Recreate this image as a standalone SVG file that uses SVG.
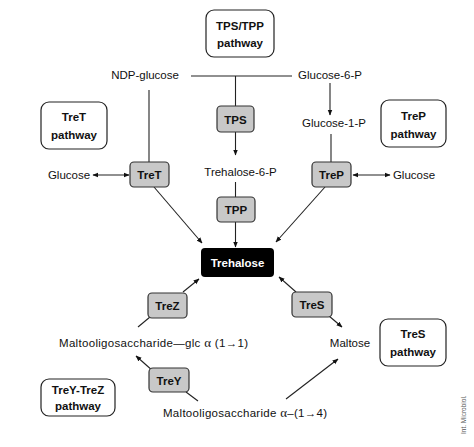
<svg xmlns="http://www.w3.org/2000/svg" width="474" height="447" viewBox="0 0 474 447">
<style>
text{font-family:"Liberation Sans",Arial,sans-serif;font-size:11.5px;fill:#111;}
.b{font-weight:bold;text-anchor:middle;}
.m{text-anchor:middle;}
.enz{fill:#c8c8c8;stroke:#333;stroke-width:1.2;}
.pw{fill:#fff;stroke:#222;stroke-width:1.2;}
.ln{stroke:#222;stroke-width:1.1;fill:none;}
.gr{font-family:"Liberation Serif","Times New Roman",serif;font-size:13px;}
</style>
<defs>
<marker id="ah" viewBox="0 0 10 10" refX="9" refY="5" markerWidth="6" markerHeight="6" orient="auto-start-reverse" markerUnits="userSpaceOnUse">
<path d="M0,1 L10,5 L0,9 z" fill="#111"/>
</marker>
</defs>
<rect width="474" height="447" fill="#fff"/>
<g id="connectors">
<path class="ln" d="M191,76 H292"/>
<path class="ln" d="M235.5,76 V106"/>
<path class="ln" d="M235.5,132 V155" marker-end="url(#ah)"/>
<path class="ln" d="M235.5,182 V197"/>
<path class="ln" d="M235.5,222 V247" marker-end="url(#ah)"/>
<path class="ln" d="M149,90 V162"/>
<path class="ln" d="M93,175 H129" marker-start="url(#ah)" marker-end="url(#ah)"/>
<path class="ln" d="M330,83 V115" marker-end="url(#ah)"/>
<path class="ln" d="M331,134 V162"/>
<path class="ln" d="M353,175 H390" marker-start="url(#ah)" marker-end="url(#ah)"/>
<path class="ln" d="M154,187 L202,243" marker-end="url(#ah)"/>
<path class="ln" d="M325,187 L276,242" marker-end="url(#ah)"/>
<path class="ln" d="M183,292 L199,279" marker-end="url(#ah)"/>
<path class="ln" d="M150,317 L138,327"/>
<path class="ln" d="M153,371 L136,356" marker-end="url(#ah)"/>
<path class="ln" d="M186,392 L198,401"/>
<path class="ln" d="M296,292 L279,277" marker-end="url(#ah)"/>
<path class="ln" d="M329,316 L342,327" marker-end="url(#ah)"/>
<path class="ln" d="M286,399 L338,359" marker-end="url(#ah)"/>
</g>
<g id="tps_tpp_pathway"><rect class="pw" x="206" y="10" width="68" height="47" rx="8"/><text class="b" x="240" y="30">TPS/TPP</text><text class="b" x="240" y="47">pathway</text></g>
<g id="ndp_glucose"><text class="m" x="145" y="79">NDP-glucose</text></g>
<g id="glucose6p"><text class="m" x="330" y="79">Glucose-6-P</text></g>
<g id="tps"><rect class="enz" x="217" y="106" width="37" height="26" rx="4"/><text class="b" x="235.5" y="123.5">TPS</text></g>
<g id="glucose1p"><text class="m" x="334" y="127">Glucose-1-P</text></g>
<g id="tret_pathway"><rect class="pw" x="41" y="102" width="66" height="47" rx="8"/><text class="b" x="74" y="121">TreT</text><text class="b" x="74" y="139">pathway</text></g>
<g id="trep_pathway"><rect class="pw" x="381" y="100" width="65" height="47" rx="8"/><text class="b" x="413.5" y="120">TreP</text><text class="b" x="413.5" y="138">pathway</text></g>
<g id="glucose_left"><text class="m" x="69" y="179">Glucose</text></g>
<g id="tret"><rect class="enz" x="130" y="162" width="39" height="25" rx="4"/><text class="b" x="149.5" y="179">TreT</text></g>
<g id="trehalose6p"><text class="m" x="240.5" y="176">Trehalose-6-P</text></g>
<g id="trep"><rect class="enz" x="312" y="162" width="39" height="25" rx="4"/><text class="b" x="331.5" y="179">TreP</text></g>
<g id="glucose_right"><text class="m" x="414" y="179">Glucose</text></g>
<g id="tpp"><rect class="enz" x="217" y="197" width="38" height="25" rx="4"/><text class="b" x="236" y="214">TPP</text></g>
<g id="trehalose"><rect x="201" y="248" width="73" height="29" rx="4" fill="#000"/><text class="b" x="237.5" y="267" style="fill:#fff">Trehalose</text></g>
<g id="trez"><rect class="enz" x="148" y="293" width="39" height="25" rx="4"/><text class="b" x="167.5" y="310">TreZ</text></g>
<g id="tres"><rect class="enz" x="292" y="292" width="40" height="25" rx="4"/><text class="b" x="312" y="309">TreS</text></g>
<g id="malto_glc"><text x="59" y="347" textLength="189" lengthAdjust="spacing">Maltooligosaccharide—glc <tspan class="gr">α</tspan>  (1→1)</text></g>
<g id="maltose"><text class="m" x="350" y="347">Maltose</text></g>
<g id="tres_pathway"><rect class="pw" x="380" y="319" width="66" height="47" rx="8"/><text class="b" x="413" y="338">TreS</text><text class="b" x="413" y="356">pathway</text></g>
<g id="trey"><rect class="enz" x="149" y="368" width="40" height="24" rx="4"/><text class="b" x="169" y="384.5">TreY</text></g>
<g id="treytrez_pathway"><rect class="pw" x="41" y="379" width="74" height="37" rx="8"/><text class="b" x="78" y="394">TreY-TreZ</text><text class="b" x="78" y="410">pathway</text></g>
<g id="malto_14"><text x="163" y="417" textLength="164" lengthAdjust="spacing">Maltooligosaccharide <tspan class="gr">α</tspan>–(1→4)</text></g>
<text x="0" y="0" transform="translate(465.5,434) rotate(-90)" style="font-size:6.5px;fill:#555">Int. Microbiol.</text>
</svg>
